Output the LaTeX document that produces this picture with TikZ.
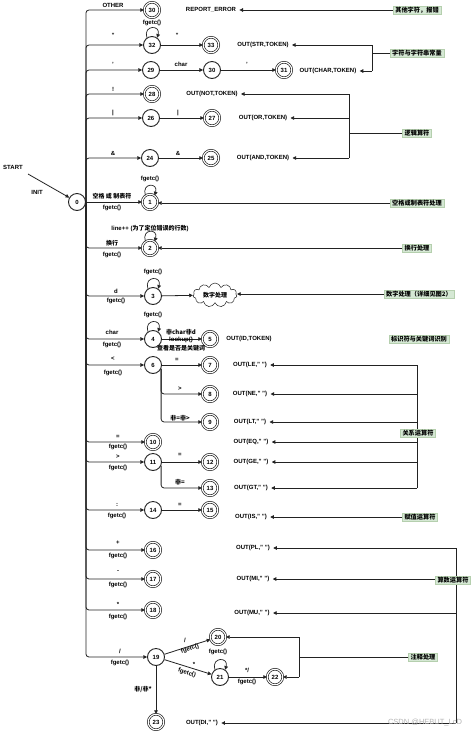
\documentclass[tikz,border=0pt]{standalone}
\usepackage{fontspec}
\setmainfont{Liberation Sans}
\newfontfamily\cjk{Noto Sans CJK SC}
\usetikzlibrary{arrows.meta,shapes.symbols,calc}
\definecolor{gfill}{HTML}{D5E8D4}
\definecolor{gline}{HTML}{B5CFAE}
\definecolor{ln}{HTML}{222222}
\begin{document}
\begin{tikzpicture}[x=1pt,y=-1pt,line width=0.8pt,draw=ln,
  font=\fontsize{6}{7}\selectfont\bfseries,
  st/.style={circle,draw,line width=0.9pt,minimum size=17pt,inner sep=0pt},
  acc/.style={circle,draw,line width=0.7pt,double,double distance=1.1pt,minimum size=15.5pt,inner sep=0pt},
  arr/.style={-{Triangle[length=3.6pt,width=3.6pt]}},
  lab/.style={inner sep=0.5pt},
  cj/.style={inner sep=0.5pt,font=\cjk\fontsize{6}{7}\selectfont\bfseries},
  outt/.style={inner xsep=3pt,inner ysep=1pt},
  gbox/.style={fill=gfill,draw=gline,line width=0.4pt,inner xsep=2pt,inner ysep=1pt,font=\cjk\fontsize{6.2}{7}\selectfont\bfseries},
  loopl/.style={arr,line width=0.7pt},
  rc/.style={rounded corners=3pt}]
\useasboundingbox (0,0) rectangle (474,732);

% ---------- states ----------
\node[st]  (n0)  at (77,202) {0};
\node[acc] (n30) at (152,10) {30};
\node[st]  (n32) at (152,45) {32};
\node[acc] (n33) at (211,45) {33};
\node[st]  (n29) at (151,70) {29};
\node[st]  (n30b) at (212,70) {30};
\node[acc] (n31) at (284,70) {31};
\node[acc] (n28) at (152,94) {28};
\node[st]  (n26) at (151,118) {26};
\node[acc] (n27) at (212,118) {27};
\node[st]  (n24) at (150,158) {24};
\node[acc] (n25) at (211,158) {25};
\node[acc] (n1)  at (150,202) {1};
\node[acc] (n2)  at (150,248) {2};
\node[st]  (n3)  at (153,296) {3};
\node[cloud,draw,cloud puffs=11,aspect=2.2,minimum width=44pt,minimum height=24pt,inner sep=0pt,line width=0.5pt,font=\cjk\fontsize{6}{7}\selectfont\bfseries] (cl) at (215,295) {数字处理};
\node[st]  (n4)  at (153,339) {4};
\node[acc] (n5)  at (210,339) {5};
\node[st]  (n6)  at (153,365) {6};
\node[acc] (n7)  at (210,365) {7};
\node[acc] (n8)  at (210,394) {8};
\node[acc] (n9)  at (210,422) {9};
\node[acc] (n10) at (153,442) {10};
\node[st]  (n11) at (153,462) {11};
\node[acc] (n12) at (210,462) {12};
\node[acc] (n13) at (210,488) {13};
\node[st]  (n14) at (153,510) {14};
\node[acc] (n15) at (210,510) {15};
\node[acc] (n16) at (153,550) {16};
\node[acc] (n17) at (153,579) {17};
\node[acc] (n18) at (153,610) {18};
\node[st]  (n19) at (156,657) {19};
\node[acc] (n20) at (218,637) {20};
\node[st]  (n21) at (220,677) {21};
\node[acc] (n22) at (275,677) {22};
\node[acc] (n23) at (156,722) {23};

% ---------- start ----------
\node[lab] (start) at (13,167) {START};
\node[lab] (init) at (37,192) {INIT};
\coordinate (s0) at (28,174);
\draw[arr] (s0) -- (n0);

% ---------- bus ----------
\foreach \t in {n30,n32,n29,n28,n26,n24,n2,n3,n4,n6,n10,n11,n14,n16,n17,n18,n19}
  \draw[arr,rc] (n0.east) |- (\t);
\draw[arr] (n0) -- (n1);

% ---------- transitions ----------
\draw[arr] (n32) -- (n33);
\draw[arr] (n29) -- (n30b);
\draw[arr] (n30b) -- (n31);
\draw[arr] (n26) -- (n27);
\draw[arr] (n24) -- (n25);
\draw[arr] (n3) -- (cl);
\draw[arr] (n4) -- (n5);
\draw[arr] (n6) -- (n7);
\draw[arr,rc] (n6.-25) |- (n8);
\draw[arr,rc] (n6.-25) |- (n9);
\draw[arr] (n11) -- (n12);
\draw[arr,rc] (n11.-25) |- (n13);
\draw[arr] (n14) -- (n15);
\draw[arr] (n19) -- (n20);
\draw[arr] (n19) -- (n21);
\draw[arr] (n21) -- (n22);
\draw[arr] (n19) -- (n23);

% self loops
\foreach \t in {n32,n1,n2,n3,n4,n21}
  \draw[loopl] (\t.125) .. controls +(-4,-13) and +(4,-13) .. (\t.55);

% ---------- edge labels ----------
\node[lab] at (113,5) {OTHER};
\node[lab] at (152,23) {fgetc()};
\node[lab] at (113,35) {"};
\node[lab] at (177,35) {"};
\node[lab] at (113,64) {'};
\node[lab] at (181,64) {char};
\node[lab] at (247,64) {'};
\node[lab] at (113,89) {!};
\node[lab] at (113,113) {|};
\node[lab] at (178,113) {|};
\node[lab] at (113,153) {\&};
\node[lab] at (178,153) {\&};
\node[lab] at (150,179) {fgetc()};
\node[cj]  at (112,196) {空格 或 制表符};
\node[lab] at (112,208) {fgetc()};
\node[lab] at (150,228) {line++ ({\cjk 为了定位错误的行数})};
\node[cj]  at (112,243) {换行};
\node[lab] at (112,255) {fgetc()};
\node[lab] at (153,272) {fgetc()};
\node[lab] at (116,291) {d};
\node[lab] at (116,301) {fgetc()};
\node[lab] at (153,315) {fgetc()};
\node[lab] at (112,332) {char};
\node[lab] at (112,345) {fgetc()};
\node[cj]  at (181,332) {非char非d};
\node[lab] at (181,340) {lookup()};
\node[cj]  at (181,348) {查看是否是关键词};
\node[lab] at (113,359) {<};
\node[lab] at (113,373) {fgetc()};
\node[lab] at (177,360) {=};
\node[lab] at (180,389) {>};
\node[cj]  at (180,418) {非=非>};
\node[lab] at (118,437) {=};
\node[lab] at (118,447) {fgetc()};
\node[lab] at (118,457) {>};
\node[lab] at (118,468) {fgetc()};
\node[lab] at (180,455) {=};
\node[cj]  at (180,482) {非=};
\node[lab] at (117,505) {:};
\node[lab] at (117,516) {fgetc()};
\node[lab] at (180,505) {=};
\node[lab] at (118,543) {+};
\node[lab] at (118,556) {fgetc()};
\node[lab] at (118,572) {-};
\node[lab] at (118,585) {fgetc()};
\node[lab] at (118,604) {*};
\node[lab] at (118,617) {fgetc()};
\node[lab] at (120,651) {/};
\node[lab] at (120,663) {fgetc()};
\node[lab] at (185,640) {/};
\node[lab,rotate=17] at (190,649) {fgetc()};
\node[lab] at (194,664) {*};
\node[lab,rotate=-17] at (187,673) {fgetc()};
\node[lab] at (218,652) {fgetc()};
\node[lab] at (247,670) {*/};
\node[lab] at (247,682) {fgetc()};
\node[cj]  at (143,689) {非/非*};

% ---------- outputs ----------
\node[outt] (oERR) at (211,10) {REPORT\_ERROR};
\node[outt] (oSTR) at (263,45) {OUT(STR,TOKEN)};
\node[outt] (oCHAR) at (328,71) {OUT(CHAR,TOKEN)};
\node[outt] (oNOT) at (212,94) {OUT(NOT,TOKEN)};
\node[outt] (oOR) at (263,118) {OUT(OR,TOKEN)};
\node[outt] (oAND) at (263,158) {OUT(AND,TOKEN)};
\node[outt] (oID) at (249,339) {OUT(ID,TOKEN)};
\node[outt] (oLE) at (250,365) {OUT(LE," ")};
\node[outt] (oNE) at (250,394) {OUT(NE," ")};
\node[outt] (oLT) at (250,422) {OUT(LT," ")};
\node[outt] (oEQ) at (251,442) {OUT(EQ," ")};
\node[outt] (oGE) at (251,462) {OUT(GE," ")};
\node[outt] (oGT) at (251,488) {OUT(GT," ")};
\node[outt] (oIS) at (251,517) {OUT(IS," ")};
\node[outt] (oPL) at (253,548) {OUT(PL," ")};
\node[outt] (oMI) at (253,579) {OUT(MI," ")};
\node[outt] (oMU) at (252,613) {OUT(MU," ")};
\node[outt] (oDI) at (202,723) {OUT(DI," ")};

% ---------- green boxes and brackets ----------
\node[gbox] (g1) at (417,10) {其他字符，报错};
\draw[arr] (g1) -- (oERR);

\node[gbox] (g2) at (417,53) {字符与字符串常量};
\coordinate (b2) at (372,53);
\draw (g2) -- (b2);
\draw (b2 |- oSTR) -- (b2 |- oCHAR);
\draw[arr] (b2 |- oSTR) -- (oSTR);
\draw[arr] (b2 |- oCHAR) -- (oCHAR);

\node[gbox] (g3) at (417,133) {逻辑算符};
\coordinate (b3) at (349,133);
\draw (g3) -- (b3);
\draw (b3 |- oNOT) -- (b3 |- oAND);
\draw[arr] (b3 |- oNOT) -- (oNOT);
\draw[arr] (b3 |- oOR) -- (oOR);
\draw[arr] (b3 |- oAND) -- (oAND);

\node[gbox] (g4) at (417,203) {空格或制表符处理};
\draw[arr] (g4) -- (g4 -| n1.east);

\node[gbox] (g5) at (417,248) {换行处理};
\draw[arr] (g5) -- (g5 -| n2.east);

\node[gbox] (g6) at (419,294) {数字处理（详细见图2）};
\draw[arr] (g6) -- (g6 -| cl.east);

\node[gbox] (g7) at (419,339) {标识符与关键词识别};

\coordinate (b8) at (417,433);
\draw (b8 |- oLE) -- (b8 |- oGT);
\foreach \o in {oLE,oNE,oLT,oEQ,oGE,oGT}
  \draw[arr] (b8 |- \o) -- (\o);
\node[gbox] (g8) at (418,433) {关系运算符};

\node[gbox] (g9) at (420,517) {赋值运算符};
\draw[arr] (g9) -- (oIS);

\coordinate (b10) at (456,580);
\draw (b10 |- oPL) -- (b10 |- oDI);
\foreach \o in {oPL,oMI,oMU,oDI}
  \draw[arr] (b10 |- \o) -- (\o);
\node[gbox] (g10) at (453,580) {算数运算符};

\node[gbox] (g11) at (423,657) {注释处理};
\coordinate (b11) at (299,657);
\draw (g11) -- (b11);
\draw (b11 |- n20) -- (b11 |- n22);
\draw[arr] (b11 |- n20) -- (n20);
\draw[arr] (b11 |- n22) -- (n22);

\node[text=black!30,font=\fontsize{7.5}{8}\selectfont] (wm) at (425,723) {CSDN @HEBUT\_LcD};
\end{tikzpicture}
\end{document}
